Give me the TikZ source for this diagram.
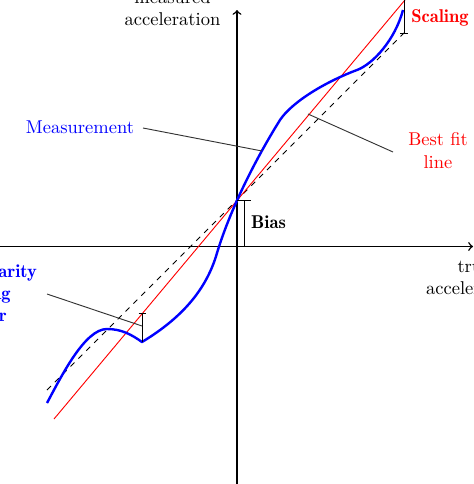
\documentclass[tikz,border=0pt]{standalone}
\begin{document}
\begin{tikzpicture}[x=0.54pt,y=-0.54pt,
  axis/.style={line width=0.8pt,->},
  meas/.style={blue,line width=1.3pt,line join=round},
  fitline/.style={red,line width=0.5pt},
  ideal/.style={dashed,line width=0.5pt},
  leader/.style={black!80,line width=0.5pt},
  bracket/.style={black,line width=0.5pt},
  lbl/.style={inner sep=0pt,align=center},
  boldlbl/.style={lbl,font=\fontseries{b}\selectfont}]
\useasboundingbox (0,0) rectangle (474,484);
\clip (0,0) rectangle (474,484);

% axes
\coordinate (xs) at (0,246.5);
\coordinate (xe) at (473,246.5);
\coordinate (ys) at (237,490);
\coordinate (ye) at (237,10);
\draw[axis] (xs) -- (xe);
\draw[axis] (ys) -- (ye);

% ideal and best fit lines
\coordinate (d1) at (47,390);
\coordinate (d2) at (404,33);
\draw[ideal] (d1) -- (d2);
\coordinate (r1) at (54,419);
\coordinate (r2) at (410,-6);
\draw[fitline] (r1) -- (r2);

% measurement curve
\coordinate (c0) at (47,403);
\coordinate (c1) at (107,329);
\coordinate (c2) at (142,342);
\coordinate (c3) at (217,253);
\coordinate (c4) at (280,120);
\coordinate (c5) at (357,70);
\coordinate (c6) at (403,10);
\draw[meas] (c0) .. controls (62,375) and (85,329) .. (c1)
  .. controls (122,329) and (132,335) .. (c2)
  .. controls (175,322) and (205,295) .. (c3)
  .. controls (230,210) and (255,160) .. (c4)
  .. controls (292,102) and (325,82) .. (c5)
  .. controls (373,64) and (395,40) .. (c6);

% brackets
\coordinate (nb1) at (142,342);
\coordinate (nb2) at (142,313.5);
\draw[bracket] (nb1) -- (nb2);
\draw[bracket] (138.5,313.5) -- (145.5,313.5);
\coordinate (sb1) at (404,0.4);
\coordinate (sb2) at (404,33);
\draw[bracket] (sb1) -- (sb2);
\draw[bracket] (400,33) -- (408,33);
\coordinate (bb1) at (244,200);
\coordinate (bb2) at (244,246.5);
\draw[bracket] (bb1) -- (bb2);
\draw[bracket] (237,200) -- (251,200);

% labels
\node[lbl,anchor=south] (ylab) at (172.5,26) {measured\\acceleration};
\node[lbl,anchor=north] (xlab) at (474,261) {true\\acceleration};
\node[lbl,blue,anchor=base] (measlab) at (80,133) {Measurement};
\node[lbl,red,anchor=north] (fitlab) at (438,132.5) {Best fit\\line};
\node[boldlbl,red,anchor=base] (scalab) at (440,22) {Scaling};
\node[boldlbl,anchor=base] (biaslab) at (268.5,228) {Bias};
\node[boldlbl,blue,anchor=north] (nonlab) at (-14,264) {Nonlinearity\\fitting\\error};

% leaders
\coordinate (m1) at (143,128);
\coordinate (m2) at (262,151);
\draw[leader] (m1) -- (m2);
\coordinate (f1) at (393,152);
\coordinate (f2) at (308,114);
\draw[leader] (f1) -- (f2);
\coordinate (n1) at (47,294);
\coordinate (n2) at (142,326);
\draw[leader] (n1) -- (n2);
\end{tikzpicture}
\end{document}
